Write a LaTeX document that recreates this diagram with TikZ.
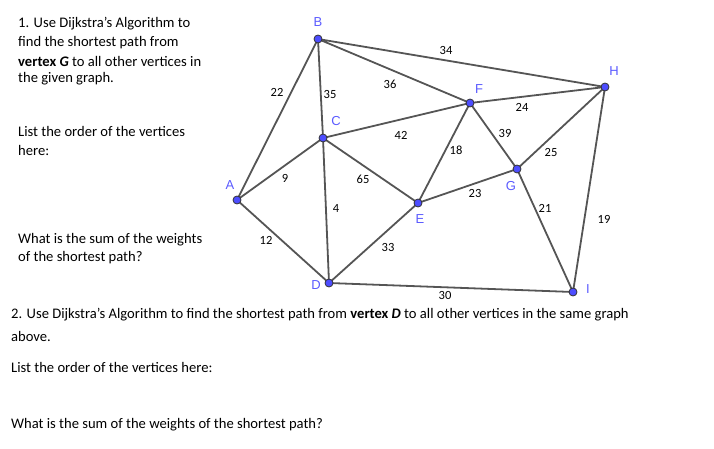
\documentclass[tikz,border=0pt]{standalone}
\usepackage{fontspec}
\setmainfont{Carlito}
\setsansfont{Liberation Sans}
\begin{document}
\begin{tikzpicture}[x=1pt,y=-1pt,
  vtx/.style={circle,draw=black!80,fill={rgb,255:red,77;green,77;blue,255},inner sep=0pt,minimum size=8pt,line width=0.8pt},
  edge/.style={draw={rgb,255:red,85;green,85;blue,85},line width=1.8pt},
  wl/.style={font=\fontsize{12.5}{14}\selectfont,inner sep=1pt},
  vl/.style={font=\sffamily\fontsize{13}{14}\selectfont,text={rgb,255:red,90;green,90;blue,255}},
  txt/.style={anchor=west,font=\fontsize{14.6}{17}\selectfont,inner sep=0pt}]
\useasboundingbox (0,0) rectangle (714,449);
\coordinate (B) at (318,39); \coordinate (H) at (605,87); \coordinate (F) at (470,103);
\coordinate (C) at (323,138); \coordinate (G) at (517,169); \coordinate (A) at (237,200);
\coordinate (E) at (418,203); \coordinate (D) at (329,283); \coordinate (I) at (573,292);
\draw[edge] (B)--(H) (B)--(F) (B)--(A) (B)--(C) (C)--(D) (C)--(F) (F)--(H) (C)--(A) (C)--(E)
 (F)--(G) (F)--(E) (E)--(G) (G)--(H) (G)--(I) (H)--(I) (A)--(D) (D)--(E) (D)--(I);
\foreach \v in {A,B,C,D,E,F,G,H,I} \node[vtx] (n\v) at (\v) {};
\node[vl] (lB) at (318,22) {B}; \node[vl] (lH) at (614,71) {H}; \node[vl] (lF) at (479,89) {F};
\node[vl] (lC) at (336,121) {C}; \node[vl] (lG) at (511,186) {G}; \node[vl] (lA) at (230,185) {A};
\node[vl] (lE) at (420,219) {E}; \node[vl] (lD) at (316,285) {D}; \node[vl] (lI) at (588,289) {I};
\node[wl] (w1) at (446,50) {34}; \node[wl] (w2) at (390,84) {36}; \node[wl] (w3) at (277,92) {22};
\node[wl] (w4) at (330,94) {35}; \node[wl] (w5) at (522,107) {24}; \node[wl] (w6) at (401,135) {42};
\node[wl] (w7) at (505,133) {39}; \node[wl] (w8) at (456,150) {18}; \node[wl] (w9) at (551,152) {25};
\node[wl] (w10) at (285,178) {9}; \node[wl] (w11) at (363,179) {65}; \node[wl] (w12) at (475,193) {23};
\node[wl] (w13) at (336,208) {4}; \node[wl] (w14) at (545,208) {21}; \node[wl] (w15) at (604,219) {19};
\node[wl] (w16) at (266,240) {12}; \node[wl] (w17) at (388,247) {33}; \node[wl] (w18) at (445,295) {30};
\node[txt] (t1) at (18,24) {1. Use Dijkstra’s Algorithm to};
\node[txt] (t2) at (18,43) {find the shortest path from};
\node[txt] (t3) at (18,61) {\textbf{vertex \textit{G}} to all other vertices in};
\node[txt] (t4) at (18,79) {the given graph.};
\node[txt] (t5) at (18,131) {List the order of the vertices};
\node[txt] (t6) at (18,150) {here:};
\node[txt] (t7) at (18,240) {What is the sum of the weights};
\node[txt] (t8) at (18,258) {of the shortest path?};
\node[txt] (t9) at (11,315) {2. Use Dijkstra’s Algorithm to find the shortest path from \textbf{vertex \textit{D}} to all other vertices in the same graph};
\node[txt] (t10) at (11,336) {above.};
\node[txt] (t11) at (11,367) {List the order of the vertices here:};
\node[txt] (t12) at (11,425) {What is the sum of the weights of the shortest path?};
\end{tikzpicture}
\end{document}
